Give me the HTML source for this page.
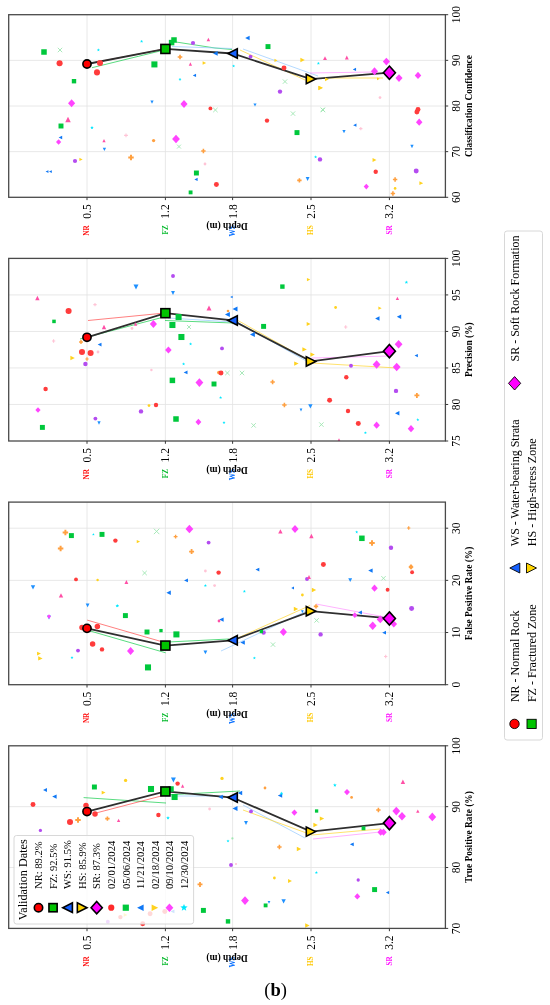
<!DOCTYPE html><html><head><meta charset="utf-8"><title>figure</title><style>html,body{margin:0;padding:0;background:#fff;}svg{display:block;}</style></head><body>
<svg width="550" height="1005" viewBox="0 0 550 1005" font-family="'Liberation Serif','Times New Roman',serif">
<rect width="550" height="1005" fill="#fff"/>
<defs><clipPath id="c0"><rect x="8.7" y="14.7" width="436.7" height="182.6"/></clipPath></defs>
<path d="M87 14.7V197.3M165.4 14.7V197.3M232.6 14.7V197.3M311 14.7V197.3M389.4 14.7V197.3M8.7 151.65H445.4M8.7 106H445.4M8.7 60.35H445.4" stroke="#e2e2e2" stroke-width="0.8" fill="none"/>
<g clip-path="url(#c0)">
<polyline points="86.8,64 165,48.9" fill="none" stroke="#ff3c3c" stroke-width="1" opacity="0.65"/>
<polyline points="92,67.7 160,51" fill="none" stroke="#00c83c" stroke-width="1" opacity="0.65"/>
<polyline points="176,42 215,48 232,49.5" fill="none" stroke="#00c83c" stroke-width="1" opacity="0.65"/>
<polyline points="172,46.5 232,48.5" fill="none" stroke="#8cc4ff" stroke-width="1" opacity="0.65"/>
<polyline points="243,49 318,76" fill="none" stroke="#8cc4ff" stroke-width="1" opacity="0.65"/>
<polyline points="240,50 305,80" fill="none" stroke="#ffd21f" stroke-width="1" opacity="0.65"/>
<polyline points="310,73 373,72" fill="none" stroke="#ff88ff" stroke-width="1" opacity="0.65"/>
<polyline points="325,78 383,78" fill="none" stroke="#ffd21f" stroke-width="1" opacity="0.65"/>
<polyline points="87,64 165.4,48.94 232.6,53.5 311,79.07 389.4,72.68" fill="none" stroke="#2e2e2e" stroke-width="1.8"/>
<rect x="41.25" y="49.25" width="5.5" height="5.5" fill="#00c83c"/>
<path d="M57.8 47.8L62.2 52.2M57.8 52.2L62.2 47.8" stroke="#9fe6b2" stroke-width="0.9" fill="none"/>
<circle cx="59.6" cy="63.2" r="3.03" fill="#ff3c3c"/>
<polygon points="98.4,48.36 98.82,49.42 99.96,49.49 99.08,50.22 99.37,51.33 98.4,50.72 97.43,51.33 97.72,50.22 96.84,49.49 97.98,49.42" fill="#00e8ff"/>
<circle cx="100" cy="63" r="3.03" fill="#ff3c3c"/>
<circle cx="97" cy="72.4" r="3.03" fill="#ff3c3c"/>
<rect x="71.8" y="79" width="4.4" height="4.4" fill="#00c83c"/>
<polygon points="71.6,99.27 75.17,103.2 71.6,107.13 68.02,103.2" fill="#ff44ff"/>
<polygon points="68,116.65 70.75,122.15 65.25,122.15" fill="#ff4fa6"/>
<rect x="58.52" y="123.53" width="4.95" height="4.95" fill="#00c83c"/>
<polygon points="58.64,137.4 62.16,135.64 62.16,139.16" fill="#1078f5"/>
<polygon points="58.6,139.14 61.2,142 58.6,144.86 56,142" fill="#ff44ff"/>
<polygon points="92,125.7 92.48,126.93 93.8,127.01 92.78,127.85 93.12,129.14 92,128.42 90.88,129.14 91.22,127.85 90.2,127.01 91.52,126.93" fill="#00e8ff"/>
<polygon points="104,138.95 105.65,142.25 102.35,142.25" fill="#ff4fa6"/>
<polygon points="104.4,151.05 106.05,147.75 102.75,147.75" fill="#1e90ff"/>
<circle cx="75" cy="161" r="2.09" fill="#b44cf0"/>
<polygon points="82.65,159.4 79.35,157.75 79.35,161.05" fill="#ffd21f"/>
<polygon points="45.57,171.6 48.43,170.17 48.43,173.03" fill="#1078f5"/>
<polygon points="48.97,171.6 51.83,170.17 51.83,173.03" fill="#1078f5"/>
<polygon points="141.6,39.76 142.02,40.82 143.16,40.89 142.28,41.62 142.57,42.73 141.6,42.12 140.63,42.73 140.92,41.62 140.04,40.89 141.18,40.82" fill="#00e8ff"/>
<rect x="171.25" y="37.25" width="5.5" height="5.5" fill="#00c83c"/>
<rect x="168.85" y="39.85" width="5.5" height="5.5" fill="#00c83c"/>
<circle cx="193" cy="43" r="2.09" fill="#b44cf0"/>
<polygon points="208.4,37.64 210.16,41.16 206.64,41.16" fill="#ff4fa6"/>
<rect x="151.38" y="61.38" width="6.05" height="6.05" fill="#00c83c"/>
<polygon points="179.17,54.69 180.83,54.69 180.83,56.17 182.31,56.17 182.31,57.83 180.83,57.83 180.83,59.31 179.17,59.31 179.17,57.83 177.69,57.83 177.69,56.17 179.17,56.17" fill="#ffa040"/>
<polygon points="190.4,62.35 192.05,65.65 188.75,65.65" fill="#ff4fa6"/>
<polygon points="206.16,63 202.64,61.24 202.64,64.76" fill="#ffd21f"/>
<polygon points="192.75,75.4 196.05,73.75 196.05,77.05" fill="#1078f5"/>
<polygon points="180,77.76 180.42,78.82 181.56,78.89 180.68,79.62 180.97,80.73 180,80.12 179.03,80.73 179.32,79.62 178.44,78.89 179.58,78.82" fill="#00e8ff"/>
<polygon points="152,103.85 153.65,100.55 150.35,100.55" fill="#1e90ff"/>
<polygon points="184,100.07 187.57,104 184,107.93 180.43,104" fill="#ff44ff"/>
<polygon points="213.09,53.4 217.71,51.09 217.71,55.71" fill="#1078f5"/>
<circle cx="210.4" cy="108.4" r="1.93" fill="#ff3c3c"/>
<path d="M213.2 107.8L217.6 112.2M213.2 112.2L217.6 107.8" stroke="#9fe6b2" stroke-width="0.9" fill="none"/>
<path d="M124.08 135.4L127.92 135.4M126 133.47L126 137.33" stroke="#ffc4d6" stroke-width="1.1" fill="none"/>
<circle cx="153.6" cy="140.6" r="1.65" fill="#ffa040"/>
<polygon points="176,134.71 179.9,139 176,143.29 172.1,139" fill="#ff44ff"/>
<path d="M177.07 144.67L180.93 148.53M177.07 148.53L180.93 144.67" stroke="#9fe6b2" stroke-width="0.9" fill="none"/>
<polygon points="130.01,154.65 131.99,154.65 131.99,156.41 133.75,156.41 133.75,158.39 131.99,158.39 131.99,160.15 130.01,160.15 130.01,158.39 128.25,158.39 128.25,156.41 130.01,156.41" fill="#ffa040"/>
<polygon points="202.61,148.8 204.19,148.8 204.19,150.21 205.6,150.21 205.6,151.79 204.19,151.79 204.19,153.2 202.61,153.2 202.61,151.79 201.2,151.79 201.2,150.21 202.61,150.21" fill="#ffa040"/>
<circle cx="205" cy="164" r="1.38" fill="#ffc4d6"/>
<rect x="193.93" y="170.53" width="4.95" height="4.95" fill="#00c83c"/>
<polygon points="194.35,179.4 197.65,177.75 197.65,181.05" fill="#1078f5"/>
<circle cx="216.4" cy="184.6" r="2.48" fill="#ff3c3c"/>
<rect x="188.67" y="190.47" width="3.85" height="3.85" fill="#00c83c"/>
<polygon points="245.2,38 249.6,35.8 249.6,40.2" fill="#1078f5"/>
<rect x="265.52" y="44.12" width="4.95" height="4.95" fill="#00c83c"/>
<circle cx="250.6" cy="56.6" r="1.93" fill="#b44cf0"/>
<polygon points="233.6,64.42 234,65.44 235.1,65.51 234.25,66.21 234.53,67.28 233.6,66.69 232.67,67.28 232.95,66.21 232.1,65.51 233.2,65.44" fill="#00e8ff"/>
<polygon points="277.54,60.4 274.46,58.86 274.46,61.94" fill="#ffd21f"/>
<circle cx="284" cy="68" r="2.48" fill="#ff3c3c"/>
<polygon points="304.8,60 300.4,57.8 300.4,62.2" fill="#ffd21f"/>
<polygon points="318.4,61.82 318.8,62.84 319.9,62.91 319.05,63.61 319.33,64.68 318.4,64.09 317.47,64.68 317.75,63.61 316.9,62.91 318,62.84" fill="#00e8ff"/>
<path d="M282.8 79.4L287.2 83.8M282.8 83.8L287.2 79.4" stroke="#9fe6b2" stroke-width="0.9" fill="none"/>
<circle cx="280" cy="91.6" r="2.2" fill="#b44cf0"/>
<polygon points="322.6,88 318.2,85.8 318.2,90.2" fill="#ffd21f"/>
<polygon points="255,106.54 256.54,103.46 253.46,103.46" fill="#1e90ff"/>
<circle cx="267" cy="120.6" r="2.2" fill="#ff3c3c"/>
<path d="M290.8 111.4L295.2 115.8M290.8 115.8L295.2 111.4" stroke="#9fe6b2" stroke-width="0.9" fill="none"/>
<rect x="294.52" y="130.12" width="4.95" height="4.95" fill="#00c83c"/>
<path d="M320.8 107.8L325.2 112.2M320.8 112.2L325.2 107.8" stroke="#9fe6b2" stroke-width="0.9" fill="none"/>
<polygon points="315.6,155.36 316.02,156.42 317.16,156.49 316.28,157.22 316.57,158.33 315.6,157.72 314.63,158.33 314.92,157.22 314.04,156.49 315.18,156.42" fill="#00e8ff"/>
<circle cx="320" cy="159.4" r="2.2" fill="#b44cf0"/>
<polygon points="298.61,178.2 300.19,178.2 300.19,179.61 301.6,179.61 301.6,181.19 300.19,181.19 300.19,182.6 298.61,182.6 298.61,181.19 297.2,181.19 297.2,179.61 298.61,179.61" fill="#ffa040"/>
<polygon points="307.6,180.93 309.53,177.07 305.68,177.07" fill="#1e90ff"/>
<polygon points="325,56.28 326.93,60.12 323.07,60.12" fill="#ff4fa6"/>
<polygon points="346.8,55.58 348.73,59.42 344.88,59.42" fill="#ff4fa6"/>
<polygon points="352.75,69.4 356.05,67.75 356.05,71.05" fill="#1078f5"/>
<polygon points="386.4,57.67 389.97,61.6 386.4,65.53 382.82,61.6" fill="#ff44ff"/>
<polygon points="374.5,67.37 378.07,71.3 374.5,75.23 370.93,71.3" fill="#ff44ff"/>
<polygon points="399,74.17 402.57,78.1 399,82.03 395.43,78.1" fill="#ff44ff"/>
<polygon points="418,71.83 421.25,75.4 418,78.98 414.75,75.4" fill="#ff44ff"/>
<polygon points="328.82,79.3 324.97,77.38 324.97,81.22" fill="#ffd21f"/>
<polygon points="322.93,87.8 319.07,85.88 319.07,89.72" fill="#ffd21f"/>
<polygon points="379.77,78.8 377.02,77.42 377.02,80.17" fill="#ffd21f"/>
<circle cx="380" cy="97.6" r="1.38" fill="#ffc4d6"/>
<path d="M320.77 107.67L324.62 111.52M320.77 111.52L324.62 107.67" stroke="#9fe6b2" stroke-width="0.9" fill="none"/>
<polygon points="353.15,125.2 356.45,123.55 356.45,126.85" fill="#1078f5"/>
<path d="M359.15 128.6L362.45 128.6M360.8 126.95L360.8 130.25" stroke="#ffc4d6" stroke-width="1.1" fill="none"/>
<polygon points="344,133.25 345.65,129.95 342.35,129.95" fill="#1e90ff"/>
<circle cx="418" cy="109.6" r="2.48" fill="#ff3c3c"/>
<circle cx="416.9" cy="111.9" r="2.48" fill="#ff3c3c"/>
<polygon points="419.2,118.62 422.45,122.2 419.2,125.78 415.95,122.2" fill="#ff44ff"/>
<polygon points="412,148.15 413.65,144.85 410.35,144.85" fill="#1e90ff"/>
<polygon points="376.43,160 372.57,158.07 372.57,161.93" fill="#ffd21f"/>
<circle cx="375.7" cy="171.7" r="2.2" fill="#ff3c3c"/>
<circle cx="416.2" cy="171" r="2.48" fill="#b44cf0"/>
<polygon points="394.31,177.3 395.89,177.3 395.89,178.71 397.3,178.71 397.3,180.29 395.89,180.29 395.89,181.7 394.31,181.7 394.31,180.29 392.9,180.29 392.9,178.71 394.31,178.71" fill="#ffa040"/>
<polygon points="423.23,183.2 419.38,181.27 419.38,185.12" fill="#ffd21f"/>
<polygon points="366.3,183.74 368.9,186.6 366.3,189.46 363.7,186.6" fill="#ff44ff"/>
<circle cx="395.1" cy="188.4" r="1.32" fill="#ffd21f"/>
<polygon points="392.11,191.3 393.69,191.3 393.69,192.71 395.1,192.71 395.1,194.29 393.69,194.29 393.69,195.7 392.11,195.7 392.11,194.29 390.7,194.29 390.7,192.71 392.11,192.71" fill="#ffa040"/>
</g>
<circle cx="87" cy="64" r="4.1" fill="#ff0000" stroke="#000" stroke-width="1.6" stroke-linejoin="miter"/>
<rect x="160.9" y="44.44" width="9" height="9" fill="#00c400" stroke="#000" stroke-width="1.6" stroke-linejoin="miter"/>
<polygon points="227.9,53.5 237.3,48.8 237.3,58.2" fill="#1560ff" stroke="#000" stroke-width="1.6" stroke-linejoin="miter"/>
<polygon points="315.7,79.07 306.3,74.37 306.3,83.77" fill="#ffd500" stroke="#000" stroke-width="1.6" stroke-linejoin="miter"/>
<polygon points="389.4,66.08 395.4,72.68 389.4,79.28 383.4,72.68" fill="#ff00ff" stroke="#000" stroke-width="1.6" stroke-linejoin="miter"/>
<rect x="8.7" y="14.7" width="436.7" height="182.6" fill="none" stroke="#4a4a4a" stroke-width="1.3"/>
<path d="M87 197.3v2.8M165.4 197.3v2.8M232.6 197.3v2.8M311 197.3v2.8M389.4 197.3v2.8M445.4 197.3h2.8M445.4 151.65h2.8M445.4 106h2.8M445.4 60.35h2.8M445.4 14.7h2.8" stroke="#3a3a3a" stroke-width="1" fill="none"/>
<text transform="translate(87 204.3) rotate(-90)" font-size="11.5" text-anchor="end" dy="0.34em">0.5</text>
<text transform="translate(86.6 225.3) rotate(-90)" font-size="7.2" font-weight="bold" text-anchor="end" dy="0.35em" fill="#ff1010">NR</text>
<text transform="translate(165.4 204.3) rotate(-90)" font-size="11.5" text-anchor="end" dy="0.34em">1.2</text>
<text transform="translate(165 225.3) rotate(-90)" font-size="7.2" font-weight="bold" text-anchor="end" dy="0.35em" fill="#00b828">FZ</text>
<text transform="translate(232.6 204.3) rotate(-90)" font-size="11.5" text-anchor="end" dy="0.34em">1.8</text>
<text transform="translate(232.2 225.3) rotate(-90)" font-size="7.2" font-weight="bold" text-anchor="end" dy="0.35em" fill="#0a70ff">WS</text>
<text transform="translate(311 204.3) rotate(-90)" font-size="11.5" text-anchor="end" dy="0.34em">2.5</text>
<text transform="translate(310.6 225.3) rotate(-90)" font-size="7.2" font-weight="bold" text-anchor="end" dy="0.35em" fill="#ffc800">HS</text>
<text transform="translate(389.4 204.3) rotate(-90)" font-size="11.5" text-anchor="end" dy="0.34em">3.2</text>
<text transform="translate(389 225.3) rotate(-90)" font-size="7.2" font-weight="bold" text-anchor="end" dy="0.35em" fill="#ff10ff">SR</text>
<text transform="translate(459.8 197.3) rotate(-90)" font-size="11.5" text-anchor="middle">60</text>
<text transform="translate(459.8 151.65) rotate(-90)" font-size="11.5" text-anchor="middle">70</text>
<text transform="translate(459.8 106) rotate(-90)" font-size="11.5" text-anchor="middle">80</text>
<text transform="translate(459.8 60.35) rotate(-90)" font-size="11.5" text-anchor="middle">90</text>
<text transform="translate(459.8 14.7) rotate(-90)" font-size="11.5" text-anchor="middle">100</text>
<text transform="translate(471.8 106) rotate(-90)" font-size="9.4" font-weight="bold" text-anchor="middle">Classification Confidence</text>
<text transform="translate(227.1 223.4) rotate(180)" font-size="9.5" font-weight="bold" text-anchor="middle">Depth (m)</text>
<defs><clipPath id="c1"><rect x="8.7" y="258.4" width="436.7" height="182.6"/></clipPath></defs>
<path d="M87 258.4V441M165.4 258.4V441M232.6 258.4V441M311 258.4V441M389.4 258.4V441M8.7 404.48H445.4M8.7 367.96H445.4M8.7 331.44H445.4M8.7 294.92H445.4" stroke="#e2e2e2" stroke-width="0.8" fill="none"/>
<g clip-path="url(#c1)">
<polyline points="88,320.5 165,313" fill="none" stroke="#ff3c3c" stroke-width="1" opacity="0.65"/>
<polyline points="80,339 160,318" fill="none" stroke="#00c83c" stroke-width="1" opacity="0.65"/>
<polyline points="165,320.5 233,323" fill="none" stroke="#00c83c" stroke-width="1" opacity="0.65"/>
<polyline points="168,318 233,322" fill="none" stroke="#8cc4ff" stroke-width="1" opacity="0.65"/>
<polyline points="237,320 310,361" fill="none" stroke="#ffd21f" stroke-width="1" opacity="0.65"/>
<polyline points="237,322 308,362" fill="none" stroke="#8cc4ff" stroke-width="1" opacity="0.65"/>
<polyline points="312,358 389,356" fill="none" stroke="#ff88ff" stroke-width="1" opacity="0.65"/>
<polyline points="312,363 397,368" fill="none" stroke="#ffd21f" stroke-width="1" opacity="0.65"/>
<polyline points="87,337.28 165.4,313.18 232.6,320.48 311,361.39 389.4,351.16" fill="none" stroke="#2e2e2e" stroke-width="1.8"/>
<polygon points="37.4,295.8 39.6,300.2 35.2,300.2" fill="#ff4fa6"/>
<circle cx="68.6" cy="311" r="3.03" fill="#ff3c3c"/>
<rect x="52.24" y="319.64" width="3.52" height="3.52" fill="#00c83c"/>
<path d="M93.35 304.6L96.65 304.6M95 302.95L95 306.25" stroke="#ffc4d6" stroke-width="1.1" fill="none"/>
<path d="M51.95 341L55.25 341M53.6 339.35L53.6 342.65" stroke="#ffc4d6" stroke-width="1.1" fill="none"/>
<polygon points="104,324.8 106.2,329.2 101.8,329.2" fill="#ff4fa6"/>
<polygon points="80.31,340.07 81.69,340.07 81.69,341.31 82.92,341.31 82.92,342.69 81.69,342.69 81.69,343.93 80.31,343.93 80.31,342.69 79.08,342.69 79.08,341.31 80.31,341.31" fill="#ffa040"/>
<polygon points="97.67,344.6 101.52,342.68 101.52,346.53" fill="#1078f5"/>
<circle cx="82" cy="352" r="3.03" fill="#ff3c3c"/>
<circle cx="90.6" cy="353" r="3.03" fill="#ff3c3c"/>
<polygon points="74.8,358 70.4,355.8 70.4,360.2" fill="#ffd21f"/>
<polygon points="86.41,357.35 87.59,357.35 87.59,358.41 88.65,358.41 88.65,359.59 87.59,359.59 87.59,360.65 86.41,360.65 86.41,359.59 85.35,359.59 85.35,358.41 86.41,358.41" fill="#ffa040"/>
<circle cx="85.4" cy="364" r="2.2" fill="#b44cf0"/>
<circle cx="45.6" cy="389" r="2.2" fill="#ff3c3c"/>
<polygon points="38,407.14 40.6,410 38,412.86 35.4,410" fill="#ff44ff"/>
<rect x="39.92" y="424.92" width="4.95" height="4.95" fill="#00c83c"/>
<circle cx="95.4" cy="418.6" r="1.93" fill="#b44cf0"/>
<polygon points="99,424.65 100.65,421.35 97.35,421.35" fill="#1e90ff"/>
<circle cx="98" cy="352" r="1.38" fill="#ffc4d6"/>
<circle cx="173" cy="276" r="1.93" fill="#b44cf0"/>
<polygon points="136,289.48 138.47,284.52 133.53,284.52" fill="#1e90ff"/>
<polygon points="173,294.93 174.93,291.07 171.07,291.07" fill="#1e90ff"/>
<polygon points="209,305.52 211.47,310.48 206.53,310.48" fill="#ff4fa6"/>
<rect x="175.57" y="313.98" width="6.05" height="6.05" fill="#00c83c"/>
<rect x="169.38" y="321.98" width="6.05" height="6.05" fill="#00c83c"/>
<rect x="178.38" y="333.98" width="6.05" height="6.05" fill="#00c83c"/>
<polygon points="153.4,320.07 156.97,324 153.4,327.93 149.83,324" fill="#ff44ff"/>
<polygon points="135.6,322.35 137.25,325.65 133.95,325.65" fill="#ff4fa6"/>
<circle cx="132" cy="328.4" r="1.38" fill="#ffc4d6"/>
<path d="M187.07 325.07L190.93 328.93M187.07 328.93L190.93 325.07" stroke="#9fe6b2" stroke-width="0.9" fill="none"/>
<polygon points="190.6,342.36 191.02,343.42 192.16,343.49 191.28,344.22 191.57,345.33 190.6,344.71 189.63,345.33 189.92,344.22 189.04,343.49 190.18,343.42" fill="#00e8ff"/>
<polygon points="168.4,346.43 171.65,350 168.4,353.57 165.15,350" fill="#ff44ff"/>
<polygon points="183.6,362.36 184.02,363.42 185.16,363.49 184.28,364.22 184.57,365.33 183.6,364.71 182.63,365.33 182.92,364.22 182.04,363.49 183.18,363.42" fill="#00e8ff"/>
<polygon points="183.67,372.4 187.53,370.47 187.53,374.32" fill="#1078f5"/>
<circle cx="151.4" cy="370" r="1.21" fill="#ffc4d6"/>
<rect x="169.65" y="377.65" width="5.5" height="5.5" fill="#00c83c"/>
<polygon points="199.4,378.31 203.3,382.6 199.4,386.89 195.5,382.6" fill="#ff44ff"/>
<rect x="211.53" y="381.52" width="4.95" height="4.95" fill="#00c83c"/>
<circle cx="219" cy="372.6" r="1.93" fill="#ffa040"/>
<circle cx="149" cy="405.6" r="1.38" fill="#ffd21f"/>
<circle cx="156" cy="405" r="2.2" fill="#ff3c3c"/>
<circle cx="141" cy="411.4" r="2.2" fill="#b44cf0"/>
<rect x="173.25" y="416.25" width="5.5" height="5.5" fill="#00c83c"/>
<polygon points="198.4,418.78 201.33,422 198.4,425.22 195.47,422" fill="#ff44ff"/>
<polygon points="230.19,297 232.61,295.79 232.61,298.21" fill="#1078f5"/>
<polygon points="232.53,309 237.47,306.52 237.47,311.48" fill="#1078f5"/>
<circle cx="228" cy="311" r="1.32" fill="#ffa040"/>
<polygon points="224.93,314.6 229.88,312.12 229.88,317.08" fill="#1078f5"/>
<rect x="280.2" y="284.4" width="4.4" height="4.4" fill="#00c83c"/>
<polygon points="310.25,279.6 306.95,277.95 306.95,281.25" fill="#ffd21f"/>
<rect x="261.12" y="323.92" width="4.95" height="4.95" fill="#00c83c"/>
<polygon points="249.93,334.6 254.88,332.12 254.88,337.08" fill="#1078f5"/>
<polygon points="310.53,324 306.68,322.07 306.68,325.93" fill="#ffd21f"/>
<polygon points="306.8,349.4 302.4,347.2 302.4,351.6" fill="#ffd21f"/>
<circle cx="222" cy="348.4" r="1.93" fill="#b44cf0"/>
<polygon points="314.8,354.6 310.4,352.4 310.4,356.8" fill="#ffd21f"/>
<polygon points="298.6,363.6 294.2,361.4 294.2,365.8" fill="#ffd21f"/>
<circle cx="221" cy="373" r="2.48" fill="#ff3c3c"/>
<path d="M225.2 370.8L229.6 375.2M225.2 375.2L229.6 370.8" stroke="#9fe6b2" stroke-width="0.9" fill="none"/>
<path d="M239.8 370.8L244.2 375.2M239.8 375.2L244.2 370.8" stroke="#9fe6b2" stroke-width="0.9" fill="none"/>
<polygon points="271.81,379.8 273.39,379.8 273.39,381.21 274.8,381.21 274.8,382.79 273.39,382.79 273.39,384.2 271.81,384.2 271.81,382.79 270.4,382.79 270.4,381.21 271.81,381.21" fill="#ffa040"/>
<polygon points="220.6,396.02 221,397.04 222.1,397.11 221.25,397.81 221.53,398.88 220.6,398.29 219.67,398.88 219.95,397.81 219.1,397.11 220.2,397.04" fill="#00e8ff"/>
<polygon points="283.61,402.8 285.19,402.8 285.19,404.21 286.6,404.21 286.6,405.79 285.19,405.79 285.19,407.2 283.61,407.2 283.61,405.79 282.2,405.79 282.2,404.21 283.61,404.21" fill="#ffa040"/>
<polygon points="301,411.38 302.38,408.62 299.62,408.62" fill="#1e90ff"/>
<polygon points="310.4,408.6 312.6,404.2 308.2,404.2" fill="#1e90ff"/>
<polygon points="224,421.02 224.4,422.04 225.5,422.11 224.65,422.81 224.93,423.88 224,423.29 223.07,423.88 223.35,422.81 222.5,422.11 223.6,422.04" fill="#00e8ff"/>
<path d="M251.4 423.2L255.8 427.6M251.4 427.6L255.8 423.2" stroke="#9fe6b2" stroke-width="0.9" fill="none"/>
<path d="M319.2 422.4L323.6 426.8M319.2 426.8L323.6 422.4" stroke="#9fe6b2" stroke-width="0.9" fill="none"/>
<polygon points="406.4,280.4 406.88,281.63 408.2,281.71 407.18,282.55 407.52,283.84 406.4,283.12 405.28,283.84 405.62,282.55 404.6,281.71 405.92,281.63" fill="#00e8ff"/>
<polygon points="397.4,296.75 399.05,300.05 395.75,300.05" fill="#ff4fa6"/>
<circle cx="335.6" cy="307.5" r="1.38" fill="#ffd21f"/>
<polygon points="381.65,308.2 378.35,306.55 378.35,309.85" fill="#ffd21f"/>
<polygon points="375.1,318.5 379.5,316.3 379.5,320.7" fill="#1078f5"/>
<polygon points="396.8,316.7 401.2,314.5 401.2,318.9" fill="#1078f5"/>
<path d="M344.05 327L347.35 327M345.7 325.35L345.7 328.65" stroke="#ffc4d6" stroke-width="1.1" fill="none"/>
<polygon points="398.6,339.91 402.5,344.2 398.6,348.49 394.7,344.2" fill="#ff44ff"/>
<polygon points="414.55,355.6 417.85,353.95 417.85,357.25" fill="#1078f5"/>
<polygon points="376.6,360.21 380.5,364.5 376.6,368.79 372.7,364.5" fill="#ff44ff"/>
<polygon points="396.7,362.71 400.6,367 396.7,371.29 392.8,367" fill="#ff44ff"/>
<circle cx="351" cy="365.7" r="1.93" fill="#b44cf0"/>
<circle cx="346.3" cy="377.3" r="2.2" fill="#ff3c3c"/>
<circle cx="396" cy="390.9" r="2.2" fill="#b44cf0"/>
<polygon points="416.01,392.92 417.79,392.92 417.79,394.51 419.38,394.51 419.38,396.29 417.79,396.29 417.79,397.88 416.01,397.88 416.01,396.29 414.42,396.29 414.42,394.51 416.01,394.51" fill="#ffa040"/>
<circle cx="329.6" cy="400.3" r="2.48" fill="#ff3c3c"/>
<circle cx="348" cy="411" r="2.2" fill="#ff3c3c"/>
<polygon points="395,413.3 399.4,411.1 399.4,415.5" fill="#1078f5"/>
<polygon points="417.8,418.12 418.2,419.14 419.3,419.21 418.45,419.91 418.73,420.98 417.8,420.39 416.87,420.98 417.15,419.91 416.3,419.21 417.4,419.14" fill="#00e8ff"/>
<circle cx="358.3" cy="423.6" r="2.48" fill="#ff3c3c"/>
<polygon points="376.6,421.62 379.85,425.2 376.6,428.77 373.35,425.2" fill="#ff44ff"/>
<polygon points="411,425.12 414.25,428.7 411,432.27 407.75,428.7" fill="#ff44ff"/>
<polygon points="365.4,431.22 365.8,432.24 366.9,432.31 366.05,433.01 366.33,434.08 365.4,433.49 364.47,434.08 364.75,433.01 363.9,432.31 365,432.24" fill="#00e8ff"/>
<polygon points="339,438.35 340.65,441.65 337.35,441.65" fill="#ff4fa6"/>
</g>
<circle cx="87" cy="337.28" r="4.1" fill="#ff0000" stroke="#000" stroke-width="1.6" stroke-linejoin="miter"/>
<rect x="160.9" y="308.68" width="9" height="9" fill="#00c400" stroke="#000" stroke-width="1.6" stroke-linejoin="miter"/>
<polygon points="227.9,320.48 237.3,315.78 237.3,325.18" fill="#1560ff" stroke="#000" stroke-width="1.6" stroke-linejoin="miter"/>
<polygon points="315.7,361.39 306.3,356.69 306.3,366.09" fill="#ffd500" stroke="#000" stroke-width="1.6" stroke-linejoin="miter"/>
<polygon points="389.4,344.56 395.4,351.16 389.4,357.76 383.4,351.16" fill="#ff00ff" stroke="#000" stroke-width="1.6" stroke-linejoin="miter"/>
<rect x="8.7" y="258.4" width="436.7" height="182.6" fill="none" stroke="#4a4a4a" stroke-width="1.3"/>
<path d="M87 441v2.8M165.4 441v2.8M232.6 441v2.8M311 441v2.8M389.4 441v2.8M445.4 441h2.8M445.4 404.48h2.8M445.4 367.96h2.8M445.4 331.44h2.8M445.4 294.92h2.8M445.4 258.4h2.8" stroke="#3a3a3a" stroke-width="1" fill="none"/>
<text transform="translate(87 448) rotate(-90)" font-size="11.5" text-anchor="end" dy="0.34em">0.5</text>
<text transform="translate(86.6 469) rotate(-90)" font-size="7.2" font-weight="bold" text-anchor="end" dy="0.35em" fill="#ff1010">NR</text>
<text transform="translate(165.4 448) rotate(-90)" font-size="11.5" text-anchor="end" dy="0.34em">1.2</text>
<text transform="translate(165 469) rotate(-90)" font-size="7.2" font-weight="bold" text-anchor="end" dy="0.35em" fill="#00b828">FZ</text>
<text transform="translate(232.6 448) rotate(-90)" font-size="11.5" text-anchor="end" dy="0.34em">1.8</text>
<text transform="translate(232.2 469) rotate(-90)" font-size="7.2" font-weight="bold" text-anchor="end" dy="0.35em" fill="#0a70ff">WS</text>
<text transform="translate(311 448) rotate(-90)" font-size="11.5" text-anchor="end" dy="0.34em">2.5</text>
<text transform="translate(310.6 469) rotate(-90)" font-size="7.2" font-weight="bold" text-anchor="end" dy="0.35em" fill="#ffc800">HS</text>
<text transform="translate(389.4 448) rotate(-90)" font-size="11.5" text-anchor="end" dy="0.34em">3.2</text>
<text transform="translate(389 469) rotate(-90)" font-size="7.2" font-weight="bold" text-anchor="end" dy="0.35em" fill="#ff10ff">SR</text>
<text transform="translate(459.8 441) rotate(-90)" font-size="11.5" text-anchor="middle">75</text>
<text transform="translate(459.8 404.48) rotate(-90)" font-size="11.5" text-anchor="middle">80</text>
<text transform="translate(459.8 367.96) rotate(-90)" font-size="11.5" text-anchor="middle">85</text>
<text transform="translate(459.8 331.44) rotate(-90)" font-size="11.5" text-anchor="middle">90</text>
<text transform="translate(459.8 294.92) rotate(-90)" font-size="11.5" text-anchor="middle">95</text>
<text transform="translate(459.8 258.4) rotate(-90)" font-size="11.5" text-anchor="middle">100</text>
<text transform="translate(471.8 349.7) rotate(-90)" font-size="9.4" font-weight="bold" text-anchor="middle">Precision (%)</text>
<text transform="translate(227.1 467.1) rotate(180)" font-size="9.5" font-weight="bold" text-anchor="middle">Depth (m)</text>
<defs><clipPath id="c2"><rect x="8.7" y="502.1" width="436.7" height="182.6"/></clipPath></defs>
<path d="M87 502.1V684.7M165.4 502.1V684.7M232.6 502.1V684.7M311 502.1V684.7M389.4 502.1V684.7M8.7 632.53H445.4M8.7 580.36H445.4M8.7 528.19H445.4" stroke="#e2e2e2" stroke-width="0.8" fill="none"/>
<g clip-path="url(#c2)">
<polyline points="87.2,620.1 161.8,641.7" fill="none" stroke="#ff3c3c" stroke-width="1" opacity="0.65"/>
<polyline points="89.8,630.9 165.7,652.8" fill="none" stroke="#00c83c" stroke-width="1" opacity="0.65"/>
<polyline points="168,642 229,639" fill="none" stroke="#00c83c" stroke-width="1" opacity="0.65"/>
<polyline points="221,651 306.4,611" fill="none" stroke="#8cc4ff" stroke-width="1" opacity="0.65"/>
<polyline points="237.3,638.2 310,605.5" fill="none" stroke="#ffd21f" stroke-width="1" opacity="0.65"/>
<polyline points="316,604 385,617" fill="none" stroke="#ff88ff" stroke-width="1" opacity="0.65"/>
<polyline points="87,628.35 165.4,645.57 232.6,640.35 311,611.14 389.4,618.44" fill="none" stroke="#2e2e2e" stroke-width="1.8"/>
<polygon points="64.41,529.85 66.39,529.85 66.39,531.61 68.15,531.61 68.15,533.59 66.39,533.59 66.39,535.35 64.41,535.35 64.41,533.59 62.65,533.59 62.65,531.61 64.41,531.61" fill="#ffa040"/>
<rect x="68.93" y="533.12" width="4.95" height="4.95" fill="#00c83c"/>
<polygon points="59.61,545.85 61.59,545.85 61.59,547.61 63.35,547.61 63.35,549.59 61.59,549.59 61.59,551.35 59.61,551.35 59.61,549.59 57.85,549.59 57.85,547.61 59.61,547.61" fill="#ffa040"/>
<polygon points="93.4,533.01 93.76,533.91 94.72,533.97 93.98,534.59 94.22,535.53 93.4,535 92.58,535.53 92.82,534.59 92.08,533.97 93.04,533.91" fill="#00e8ff"/>
<rect x="99.53" y="531.92" width="4.95" height="4.95" fill="#00c83c"/>
<circle cx="115.4" cy="540.6" r="2.2" fill="#ff3c3c"/>
<circle cx="76" cy="579.4" r="1.93" fill="#ff3c3c"/>
<circle cx="97.6" cy="580" r="1.21" fill="#ffd21f"/>
<polygon points="33,589.6 35.2,585.2 30.8,585.2" fill="#1e90ff"/>
<polygon points="61,593.2 63.2,597.6 58.8,597.6" fill="#ff4fa6"/>
<polygon points="87.6,607.32 89.52,603.48 85.67,603.48" fill="#1e90ff"/>
<polygon points="117,604.42 117.4,605.44 118.5,605.51 117.65,606.21 117.93,607.28 117,606.69 116.07,607.28 116.35,606.21 115.5,605.51 116.6,605.44" fill="#00e8ff"/>
<polygon points="49,619.42 50.92,615.58 47.08,615.58" fill="#1e90ff"/>
<polygon points="49,614.36 50.95,616.5 49,618.64 47.05,616.5" fill="#ff44ff"/>
<circle cx="82" cy="627.6" r="2.75" fill="#ff3c3c"/>
<circle cx="97.4" cy="626.6" r="2.75" fill="#ff3c3c"/>
<circle cx="92.6" cy="644" r="2.75" fill="#ff3c3c"/>
<circle cx="102" cy="649.4" r="2.2" fill="#ff3c3c"/>
<circle cx="78" cy="650.6" r="1.93" fill="#b44cf0"/>
<polygon points="72,656.02 72.4,657.04 73.5,657.11 72.65,657.81 72.93,658.88 72,658.29 71.07,658.88 71.35,657.81 70.5,657.11 71.6,657.04" fill="#00e8ff"/>
<polygon points="40.92,653.6 37.08,651.68 37.08,655.52" fill="#ffd21f"/>
<polygon points="42.6,658.4 38.2,656.2 38.2,660.6" fill="#ffd21f"/>
<path d="M153.85 528.65L159.35 534.15M153.85 534.15L159.35 528.65" stroke="#9fe6b2" stroke-width="0.9" fill="none"/>
<polygon points="189.4,524.71 193.3,529 189.4,533.29 185.5,529" fill="#ff44ff"/>
<polygon points="140.05,541.6 136.75,539.95 136.75,543.25" fill="#ffd21f"/>
<polygon points="174.91,534.68 176.29,534.68 176.29,535.91 177.53,535.91 177.53,537.29 176.29,537.29 176.29,538.52 174.91,538.52 174.91,537.29 173.67,537.29 173.67,535.91 174.91,535.91" fill="#ffa040"/>
<circle cx="208.6" cy="542.6" r="1.93" fill="#b44cf0"/>
<polygon points="190.71,549.12 192.49,549.12 192.49,550.71 194.07,550.71 194.07,552.49 192.49,552.49 192.49,554.08 190.71,554.08 190.71,552.49 189.12,552.49 189.12,550.71 190.71,550.71" fill="#ffa040"/>
<path d="M142.4 570.8L146.8 575.2M142.4 575.2L146.8 570.8" stroke="#9fe6b2" stroke-width="0.9" fill="none"/>
<circle cx="205.4" cy="571" r="1.38" fill="#ffc4d6"/>
<circle cx="218.6" cy="572.6" r="2.2" fill="#ff3c3c"/>
<polygon points="126.4,580.08 128.33,583.92 124.48,583.92" fill="#ff4fa6"/>
<polygon points="184.07,580.4 187.93,578.48 187.93,582.32" fill="#1078f5"/>
<polygon points="205.4,584.02 205.8,585.04 206.9,585.11 206.05,585.81 206.33,586.88 205.4,586.29 204.47,586.88 204.75,585.81 203.9,585.11 205,585.04" fill="#00e8ff"/>
<circle cx="214.6" cy="585.6" r="1.38" fill="#ffc4d6"/>
<polygon points="166.4,592.8 170.8,590.6 170.8,595" fill="#1078f5"/>
<polygon points="117.6,604.02 118,605.04 119.1,605.11 118.25,605.81 118.53,606.88 117.6,606.29 116.67,606.88 116.95,605.81 116.1,605.11 117.2,605.04" fill="#00e8ff"/>
<rect x="122.93" y="613.12" width="4.95" height="4.95" fill="#00c83c"/>
<rect x="144.53" y="629.52" width="4.95" height="4.95" fill="#00c83c"/>
<rect x="159.35" y="628.95" width="3.3" height="3.3" fill="#00c83c"/>
<rect x="173.38" y="631.38" width="6.05" height="6.05" fill="#00c83c"/>
<polygon points="130.6,647.07 134.17,651 130.6,654.93 127.02,651" fill="#ff44ff"/>
<polygon points="205.4,654.32 207.33,650.48 203.47,650.48" fill="#1e90ff"/>
<rect x="144.97" y="664.38" width="6.05" height="6.05" fill="#00c83c"/>
<polygon points="280.4,529.2 282.6,533.6 278.2,533.6" fill="#ff4fa6"/>
<polygon points="295,525.07 298.57,529 295,532.93 291.43,529" fill="#ff44ff"/>
<polygon points="311.4,533.8 313.6,538.2 309.2,538.2" fill="#ff4fa6"/>
<polygon points="255.47,569.6 259.32,567.68 259.32,571.52" fill="#1078f5"/>
<circle cx="323.4" cy="564.6" r="2.48" fill="#ff3c3c"/>
<circle cx="307" cy="579" r="1.93" fill="#b44cf0"/>
<polygon points="309,575.08 310.93,578.92 307.07,578.92" fill="#ff4fa6"/>
<polygon points="244.4,589.82 244.8,590.84 245.9,590.91 245.05,591.61 245.33,592.68 244.4,592.09 243.47,592.68 243.75,591.61 242.9,590.91 244,590.84" fill="#00e8ff"/>
<polygon points="291.23,588 293.98,586.62 293.98,589.38" fill="#1078f5"/>
<polygon points="316.2,590 311.8,587.8 311.8,592.2" fill="#ffd21f"/>
<circle cx="302.4" cy="595" r="1.38" fill="#ffd21f"/>
<polygon points="219.2,619.6 223.6,617.4 223.6,621.8" fill="#1078f5"/>
<circle cx="219" cy="621" r="1.38" fill="#ff4fa6"/>
<polygon points="240.4,642.6 244.8,640.4 244.8,644.8" fill="#1078f5"/>
<circle cx="263.6" cy="632.6" r="2.2" fill="#b44cf0"/>
<rect x="259.75" y="629.95" width="3.3" height="3.3" fill="#00c83c"/>
<polygon points="283.4,628.07 286.97,632 283.4,635.93 279.82,632" fill="#ff44ff"/>
<path d="M270.8 642.4L275.2 646.8M270.8 646.8L275.2 642.4" stroke="#9fe6b2" stroke-width="0.9" fill="none"/>
<polygon points="254.4,656.42 254.8,657.44 255.9,657.51 255.05,658.21 255.33,659.28 254.4,658.69 253.47,659.28 253.75,658.21 252.9,657.51 254,657.44" fill="#00e8ff"/>
<polygon points="298.2,609 293.8,606.8 293.8,611.2" fill="#ffd21f"/>
<polygon points="302.4,612.98 303.77,610.23 301.02,610.23" fill="#1e90ff"/>
<polygon points="315.21,604.2 316.79,604.2 316.79,605.61 318.2,605.61 318.2,607.19 316.79,607.19 316.79,608.6 315.21,608.6 315.21,607.19 313.8,607.19 313.8,605.61 315.21,605.61" fill="#ffa040"/>
<path d="M314.4 618.2L318.8 622.6M314.4 622.6L318.8 618.2" stroke="#9fe6b2" stroke-width="0.9" fill="none"/>
<circle cx="320.6" cy="634.4" r="2.2" fill="#b44cf0"/>
<polygon points="356.7,530.52 357.1,531.54 358.2,531.61 357.35,532.31 357.63,533.38 356.7,532.79 355.77,533.38 356.05,532.31 355.2,531.61 356.3,531.54" fill="#00e8ff"/>
<rect x="359.15" y="535.55" width="5.5" height="5.5" fill="#00c83c"/>
<polygon points="371.01,540.35 372.99,540.35 372.99,542.11 374.75,542.11 374.75,544.09 372.99,544.09 372.99,545.85 371.01,545.85 371.01,544.09 369.25,544.09 369.25,542.11 371.01,542.11" fill="#ffa040"/>
<polygon points="408.11,526.35 409.29,526.35 409.29,527.41 410.35,527.41 410.35,528.59 409.29,528.59 409.29,529.65 408.11,529.65 408.11,528.59 407.05,528.59 407.05,527.41 408.11,527.41" fill="#ffa040"/>
<circle cx="391" cy="547.7" r="2.2" fill="#b44cf0"/>
<polygon points="411,564.04 413.6,566.9 411,569.76 408.4,566.9" fill="#ffa040"/>
<circle cx="412.1" cy="572.2" r="1.93" fill="#ff3c3c"/>
<polygon points="368.2,570.6 372.6,568.4 372.6,572.8" fill="#1078f5"/>
<polygon points="350.2,582.12 352.12,578.28 348.27,578.28" fill="#1e90ff"/>
<path d="M381.3 576.1L385.7 580.5M381.3 580.5L385.7 576.1" stroke="#9fe6b2" stroke-width="0.9" fill="none"/>
<polygon points="374.5,584.62 377.75,588.2 374.5,591.78 371.25,588.2" fill="#ff44ff"/>
<circle cx="387.6" cy="589.8" r="1.93" fill="#ff3c3c"/>
<circle cx="411.6" cy="608.4" r="2.48" fill="#b44cf0"/>
<polygon points="358.07,612.5 361.93,610.58 361.93,614.42" fill="#1078f5"/>
<polygon points="354.8,612.34 357.4,615.2 354.8,618.06 352.2,615.2" fill="#ff44ff"/>
<polygon points="380.3,615.47 383.88,619.4 380.3,623.33 376.73,619.4" fill="#ff44ff"/>
<polygon points="393.8,620.42 397.05,624 393.8,627.58 390.55,624" fill="#ff44ff"/>
<polygon points="372.7,621.51 376.6,625.8 372.7,630.09 368.8,625.8" fill="#ff44ff"/>
<polygon points="382.18,632.7 386.03,630.78 386.03,634.62" fill="#1078f5"/>
<path d="M384.05 656.5L387.35 656.5M385.7 654.85L385.7 658.15" stroke="#ffc4d6" stroke-width="1.1" fill="none"/>
</g>
<circle cx="87" cy="628.35" r="4.1" fill="#ff0000" stroke="#000" stroke-width="1.6" stroke-linejoin="miter"/>
<rect x="160.9" y="641.07" width="9" height="9" fill="#00c400" stroke="#000" stroke-width="1.6" stroke-linejoin="miter"/>
<polygon points="227.9,640.35 237.3,635.65 237.3,645.05" fill="#1560ff" stroke="#000" stroke-width="1.6" stroke-linejoin="miter"/>
<polygon points="315.7,611.14 306.3,606.44 306.3,615.84" fill="#ffd500" stroke="#000" stroke-width="1.6" stroke-linejoin="miter"/>
<polygon points="389.4,611.84 395.4,618.44 389.4,625.04 383.4,618.44" fill="#ff00ff" stroke="#000" stroke-width="1.6" stroke-linejoin="miter"/>
<rect x="8.7" y="502.1" width="436.7" height="182.6" fill="none" stroke="#4a4a4a" stroke-width="1.3"/>
<path d="M87 684.7v2.8M165.4 684.7v2.8M232.6 684.7v2.8M311 684.7v2.8M389.4 684.7v2.8M445.4 684.7h2.8M445.4 632.53h2.8M445.4 580.36h2.8M445.4 528.19h2.8" stroke="#3a3a3a" stroke-width="1" fill="none"/>
<text transform="translate(87 691.7) rotate(-90)" font-size="11.5" text-anchor="end" dy="0.34em">0.5</text>
<text transform="translate(86.6 712.7) rotate(-90)" font-size="7.2" font-weight="bold" text-anchor="end" dy="0.35em" fill="#ff1010">NR</text>
<text transform="translate(165.4 691.7) rotate(-90)" font-size="11.5" text-anchor="end" dy="0.34em">1.2</text>
<text transform="translate(165 712.7) rotate(-90)" font-size="7.2" font-weight="bold" text-anchor="end" dy="0.35em" fill="#00b828">FZ</text>
<text transform="translate(232.6 691.7) rotate(-90)" font-size="11.5" text-anchor="end" dy="0.34em">1.8</text>
<text transform="translate(232.2 712.7) rotate(-90)" font-size="7.2" font-weight="bold" text-anchor="end" dy="0.35em" fill="#0a70ff">WS</text>
<text transform="translate(311 691.7) rotate(-90)" font-size="11.5" text-anchor="end" dy="0.34em">2.5</text>
<text transform="translate(310.6 712.7) rotate(-90)" font-size="7.2" font-weight="bold" text-anchor="end" dy="0.35em" fill="#ffc800">HS</text>
<text transform="translate(389.4 691.7) rotate(-90)" font-size="11.5" text-anchor="end" dy="0.34em">3.2</text>
<text transform="translate(389 712.7) rotate(-90)" font-size="7.2" font-weight="bold" text-anchor="end" dy="0.35em" fill="#ff10ff">SR</text>
<text transform="translate(459.8 684.7) rotate(-90)" font-size="11.5" text-anchor="middle">0</text>
<text transform="translate(459.8 632.53) rotate(-90)" font-size="11.5" text-anchor="middle">10</text>
<text transform="translate(459.8 580.36) rotate(-90)" font-size="11.5" text-anchor="middle">20</text>
<text transform="translate(459.8 528.19) rotate(-90)" font-size="11.5" text-anchor="middle">30</text>
<text transform="translate(471.8 593.4) rotate(-90)" font-size="9.4" font-weight="bold" text-anchor="middle">False Positive Rate (%)</text>
<text transform="translate(227.1 710.8) rotate(180)" font-size="9.5" font-weight="bold" text-anchor="middle">Depth (m)</text>
<defs><clipPath id="c3"><rect x="8.7" y="745.8" width="436.7" height="182.6"/></clipPath></defs>
<path d="M87 745.8V928.4M165.4 745.8V928.4M232.6 745.8V928.4M311 745.8V928.4M389.4 745.8V928.4M8.7 867.53H445.4M8.7 806.67H445.4" stroke="#e2e2e2" stroke-width="0.8" fill="none"/>
<g clip-path="url(#c3)">
<polyline points="83.6,797.6 166,803" fill="none" stroke="#00c83c" stroke-width="1" opacity="0.65"/>
<polyline points="96,813 165,795" fill="none" stroke="#ff3c3c" stroke-width="1" opacity="0.65"/>
<polyline points="165,795 240,791" fill="none" stroke="#00c83c" stroke-width="1" opacity="0.65"/>
<polyline points="165,796 225,796" fill="none" stroke="#8cc4ff" stroke-width="1" opacity="0.65"/>
<polyline points="243,805 305,838" fill="none" stroke="#8cc4ff" stroke-width="1" opacity="0.65"/>
<polyline points="243,810 312,835 380,829" fill="none" stroke="#ffd21f" stroke-width="1" opacity="0.65"/>
<polyline points="313,839 380,832" fill="none" stroke="#ff88ff" stroke-width="1" opacity="0.65"/>
<polyline points="87,811.54 165.4,791.45 232.6,797.54 311,831.62 389.4,823.1" fill="none" stroke="#2e2e2e" stroke-width="1.8"/>
<polygon points="43.08,790 46.92,788.08 46.92,791.92" fill="#1078f5"/>
<polygon points="52.2,796.6 56.6,794.4 56.6,798.8" fill="#1078f5"/>
<circle cx="33" cy="804.4" r="2.48" fill="#ff3c3c"/>
<rect x="91.93" y="784.52" width="4.95" height="4.95" fill="#00c83c"/>
<polygon points="105.52,792.6 101.67,790.68 101.67,794.52" fill="#ffd21f"/>
<circle cx="86" cy="805.4" r="2.75" fill="#ff3c3c"/>
<circle cx="95" cy="814" r="2.75" fill="#ff3c3c"/>
<circle cx="70" cy="822" r="3.03" fill="#ff3c3c"/>
<polygon points="77.01,817.25 78.99,817.25 78.99,819.01 80.75,819.01 80.75,820.99 78.99,820.99 78.99,822.75 77.01,822.75 77.01,820.99 75.25,820.99 75.25,819.01 77.01,819.01" fill="#ffa040"/>
<polygon points="106.61,816.4 108.19,816.4 108.19,817.81 109.6,817.81 109.6,819.39 108.19,819.39 108.19,820.8 106.61,820.8 106.61,819.39 105.2,819.39 105.2,817.81 106.61,817.81" fill="#ffa040"/>
<circle cx="40.4" cy="830.4" r="1.65" fill="#b44cf0"/>
<circle cx="125.6" cy="780.4" r="1.65" fill="#ffd21f"/>
<rect x="147.97" y="785.98" width="6.05" height="6.05" fill="#00c83c"/>
<polygon points="173.4,782.48 175.88,777.52 170.93,777.52" fill="#1e90ff"/>
<circle cx="177.6" cy="783.6" r="2.2" fill="#ff3c3c"/>
<polygon points="182.6,784.35 184.25,787.65 180.95,787.65" fill="#ff4fa6"/>
<rect x="168.25" y="786.25" width="5.5" height="5.5" fill="#00c83c"/>
<rect x="171.57" y="793.98" width="6.05" height="6.05" fill="#00c83c"/>
<circle cx="158.4" cy="815" r="2.2" fill="#ff3c3c"/>
<polygon points="168,816.1 168.48,817.33 169.8,817.41 168.78,818.25 169.12,819.54 168,818.83 166.88,819.54 167.22,818.25 166.2,817.41 167.52,817.33" fill="#00e8ff"/>
<polygon points="118.6,818.75 120.25,822.05 116.95,822.05" fill="#ff4fa6"/>
<circle cx="209.6" cy="809" r="1.38" fill="#ffc4d6"/>
<circle cx="222" cy="778.4" r="1.65" fill="#ffd21f"/>
<polygon points="237.8,793 242.2,790.8 242.2,795.2" fill="#1078f5"/>
<polygon points="218.4,797 222.8,794.8 222.8,799.2" fill="#1078f5"/>
<circle cx="265" cy="788" r="1.38" fill="#ffa040"/>
<polygon points="277.8,795.6 282.2,793.4 282.2,797.8" fill="#1078f5"/>
<polygon points="281.5,791.6 281.98,792.83 283.3,792.91 282.28,793.75 282.62,795.04 281.5,794.33 280.38,795.04 280.72,793.75 279.7,792.91 281.02,792.83" fill="#00e8ff"/>
<polygon points="232.53,808.4 237.47,805.92 237.47,810.88" fill="#1078f5"/>
<circle cx="251" cy="811.4" r="1.93" fill="#b44cf0"/>
<polygon points="246,824.92 247.93,821.08 244.07,821.08" fill="#1e90ff"/>
<polygon points="294.4,809.38 297.32,812.6 294.4,815.82 291.47,812.6" fill="#ff44ff"/>
<rect x="314.95" y="809.35" width="3.3" height="3.3" fill="#00c83c"/>
<polygon points="324.2,818.6 319.8,816.4 319.8,820.8" fill="#ffd21f"/>
<polygon points="317.8,825 313.4,822.8 313.4,827.2" fill="#ffd21f"/>
<polygon points="334.9,783.3 335.38,784.53 336.7,784.61 335.68,785.45 336.02,786.74 334.9,786.03 333.78,786.74 334.12,785.45 333.1,784.61 334.42,784.53" fill="#00e8ff"/>
<polygon points="347,788.88 349.93,792.1 347,795.32 344.07,792.1" fill="#ff44ff"/>
<circle cx="351.6" cy="797.4" r="1.38" fill="#ffa040"/>
<polygon points="402.9,779.6 405.1,784 400.7,784" fill="#ff4fa6"/>
<polygon points="377.61,807.8 379.19,807.8 379.19,809.21 380.6,809.21 380.6,810.79 379.19,810.79 379.19,812.2 377.61,812.2 377.61,810.79 376.2,810.79 376.2,809.21 377.61,809.21" fill="#ffa040"/>
<polygon points="396.3,806.81 400.2,811.1 396.3,815.39 392.4,811.1" fill="#ff44ff"/>
<polygon points="402,811.91 405.9,816.2 402,820.49 398.1,816.2" fill="#ff44ff"/>
<polygon points="417.8,809.45 419.45,812.75 416.15,812.75" fill="#ff4fa6"/>
<polygon points="432.3,812.61 436.2,816.9 432.3,821.19 428.4,816.9" fill="#ff44ff"/>
<rect x="361.57" y="826.38" width="3.85" height="3.85" fill="#00c83c"/>
<polygon points="380.7,828.62 383.95,832.2 380.7,835.78 377.45,832.2" fill="#ff44ff"/>
<polygon points="383.5,828.62 386.75,832.2 383.5,835.78 380.25,832.2" fill="#ff44ff"/>
<polygon points="228,839.42 228.4,840.44 229.5,840.51 228.65,841.21 228.93,842.28 228,841.69 227.07,842.28 227.35,841.21 226.5,840.51 227.6,840.44" fill="#00e8ff"/>
<circle cx="232.4" cy="838.4" r="1.1" fill="#9fe6b2"/>
<circle cx="231" cy="865" r="1.93" fill="#b44cf0"/>
<circle cx="236" cy="864" r="1.1" fill="#ffc4d6"/>
<polygon points="278.61,844.8 280.19,844.8 280.19,846.21 281.6,846.21 281.6,847.79 280.19,847.79 280.19,849.2 278.61,849.2 278.61,847.79 277.2,847.79 277.2,846.21 278.61,846.21" fill="#ffa040"/>
<polygon points="301.2,849 296.8,846.8 296.8,851.2" fill="#ffd21f"/>
<polygon points="199.11,881.92 200.89,881.92 200.89,883.51 202.47,883.51 202.47,885.29 200.89,885.29 200.89,886.88 199.11,886.88 199.11,885.29 197.53,885.29 197.53,883.51 199.11,883.51" fill="#ffa040"/>
<circle cx="274.4" cy="878" r="1.38" fill="#ffd21f"/>
<polygon points="291.93,881 288.07,879.08 288.07,882.92" fill="#ffd21f"/>
<polygon points="245,896.31 248.9,900.6 245,904.89 241.1,900.6" fill="#ff44ff"/>
<rect x="263.68" y="903.48" width="3.85" height="3.85" fill="#00c83c"/>
<polygon points="269,903.77 270.38,901.02 267.62,901.02" fill="#1e90ff"/>
<polygon points="283.6,903.6 285.8,899.2 281.4,899.2" fill="#1e90ff"/>
<rect x="200.93" y="907.92" width="4.95" height="4.95" fill="#00c83c"/>
<rect x="225.8" y="919.2" width="4.4" height="4.4" fill="#00c83c"/>
<polygon points="349.88,844.3 353.73,842.38 353.73,846.22" fill="#1078f5"/>
<polygon points="316.4,871.02 316.8,872.04 317.9,872.11 317.05,872.81 317.33,873.88 316.4,873.29 315.47,873.88 315.75,872.81 314.9,872.11 316,872.04" fill="#00e8ff"/>
<circle cx="358.2" cy="880" r="1.65" fill="#b44cf0"/>
<rect x="372.12" y="887.12" width="4.95" height="4.95" fill="#00c83c"/>
<polygon points="385.85,892.6 389.15,890.95 389.15,894.25" fill="#1078f5"/>
<polygon points="357.3,893.18 360.23,896.4 357.3,899.62 354.38,896.4" fill="#ff44ff"/>
<polygon points="309.6,925.5 305.2,923.3 305.2,927.7" fill="#ffd21f"/>
<circle cx="107.8" cy="921.8" r="1.93" fill="#b44cf0"/>
<circle cx="120.4" cy="917.1" r="2.2" fill="#ff3c3c"/>
<polygon points="127.52,914.9 123.67,912.98 123.67,916.82" fill="#ffd21f"/>
<circle cx="142.7" cy="923.8" r="2.48" fill="#ff3c3c"/>
<circle cx="150.1" cy="913.7" r="2.48" fill="#ff3c3c"/>
<circle cx="164.8" cy="911.4" r="2.48" fill="#ff3c3c"/>
<polygon points="170.57,911.4 174.43,909.48 174.43,913.32" fill="#1078f5"/>
</g>
<circle cx="87" cy="811.54" r="4.1" fill="#ff0000" stroke="#000" stroke-width="1.6" stroke-linejoin="miter"/>
<rect x="160.9" y="786.95" width="9" height="9" fill="#00c400" stroke="#000" stroke-width="1.6" stroke-linejoin="miter"/>
<polygon points="227.9,797.54 237.3,792.84 237.3,802.24" fill="#1560ff" stroke="#000" stroke-width="1.6" stroke-linejoin="miter"/>
<polygon points="315.7,831.62 306.3,826.92 306.3,836.32" fill="#ffd500" stroke="#000" stroke-width="1.6" stroke-linejoin="miter"/>
<polygon points="389.4,816.5 395.4,823.1 389.4,829.7 383.4,823.1" fill="#ff00ff" stroke="#000" stroke-width="1.6" stroke-linejoin="miter"/>
<rect x="8.7" y="745.8" width="436.7" height="182.6" fill="none" stroke="#4a4a4a" stroke-width="1.3"/>
<path d="M87 928.4v2.8M165.4 928.4v2.8M232.6 928.4v2.8M311 928.4v2.8M389.4 928.4v2.8M445.4 928.4h2.8M445.4 867.53h2.8M445.4 806.67h2.8M445.4 745.8h2.8" stroke="#3a3a3a" stroke-width="1" fill="none"/>
<text transform="translate(87 935.4) rotate(-90)" font-size="11.5" text-anchor="end" dy="0.34em">0.5</text>
<text transform="translate(86.6 956.4) rotate(-90)" font-size="7.2" font-weight="bold" text-anchor="end" dy="0.35em" fill="#ff1010">NR</text>
<text transform="translate(165.4 935.4) rotate(-90)" font-size="11.5" text-anchor="end" dy="0.34em">1.2</text>
<text transform="translate(165 956.4) rotate(-90)" font-size="7.2" font-weight="bold" text-anchor="end" dy="0.35em" fill="#00b828">FZ</text>
<text transform="translate(232.6 935.4) rotate(-90)" font-size="11.5" text-anchor="end" dy="0.34em">1.8</text>
<text transform="translate(232.2 956.4) rotate(-90)" font-size="7.2" font-weight="bold" text-anchor="end" dy="0.35em" fill="#0a70ff">WS</text>
<text transform="translate(311 935.4) rotate(-90)" font-size="11.5" text-anchor="end" dy="0.34em">2.5</text>
<text transform="translate(310.6 956.4) rotate(-90)" font-size="7.2" font-weight="bold" text-anchor="end" dy="0.35em" fill="#ffc800">HS</text>
<text transform="translate(389.4 935.4) rotate(-90)" font-size="11.5" text-anchor="end" dy="0.34em">3.2</text>
<text transform="translate(389 956.4) rotate(-90)" font-size="7.2" font-weight="bold" text-anchor="end" dy="0.35em" fill="#ff10ff">SR</text>
<text transform="translate(459.8 928.4) rotate(-90)" font-size="11.5" text-anchor="middle">70</text>
<text transform="translate(459.8 867.53) rotate(-90)" font-size="11.5" text-anchor="middle">80</text>
<text transform="translate(459.8 806.67) rotate(-90)" font-size="11.5" text-anchor="middle">90</text>
<text transform="translate(459.8 745.8) rotate(-90)" font-size="11.5" text-anchor="middle">100</text>
<text transform="translate(471.8 837.1) rotate(-90)" font-size="9.4" font-weight="bold" text-anchor="middle">True Positive Rate (%)</text>
<text transform="translate(227.1 954.5) rotate(180)" font-size="9.5" font-weight="bold" text-anchor="middle">Depth (m)</text>
<rect x="14" y="835.5" width="179.6" height="88.5" rx="2.5" fill="#fff" fill-opacity="0.8" stroke="#d4d4d4" stroke-width="0.9"/>
<text transform="translate(22.6 879.7) rotate(-90)" font-size="12.2" text-anchor="middle" dy="0.35em">Validation Dates</text>
<text transform="translate(38.5 889) rotate(-90)" font-size="10.6" dy="0.35em">NR: 89.2%</text>
<text transform="translate(53.05 889) rotate(-90)" font-size="10.6" dy="0.35em">FZ: 92.5%</text>
<text transform="translate(67.6 889) rotate(-90)" font-size="10.6" dy="0.35em">WS: 91.5%</text>
<text transform="translate(82.15 889) rotate(-90)" font-size="10.6" dy="0.35em">HS: 85.9%</text>
<text transform="translate(96.7 889) rotate(-90)" font-size="10.6" dy="0.35em">SR: 87.3%</text>
<text transform="translate(111.25 889) rotate(-90)" font-size="10.6" dy="0.35em">02/01/2024</text>
<text transform="translate(125.8 889) rotate(-90)" font-size="10.6" dy="0.35em">05/06/2024</text>
<text transform="translate(140.35 889) rotate(-90)" font-size="10.6" dy="0.35em">11/21/2024</text>
<text transform="translate(154.9 889) rotate(-90)" font-size="10.6" dy="0.35em">02/18/2024</text>
<text transform="translate(169.45 889) rotate(-90)" font-size="10.6" dy="0.35em">09/10/2024</text>
<text transform="translate(184 889) rotate(-90)" font-size="10.6" dy="0.35em">12/30/2024</text>
<circle cx="38.5" cy="907.7" r="4.2" fill="#ff0000" stroke="#000" stroke-width="1.6" stroke-linejoin="miter"/>
<rect x="48.95" y="903.6" width="8.2" height="8.2" fill="#00c400" stroke="#000" stroke-width="1.6" stroke-linejoin="miter"/>
<polygon points="62.8,907.7 72.4,902.9 72.4,912.5" fill="#1560ff" stroke="#000" stroke-width="1.6" stroke-linejoin="miter"/>
<polygon points="86.95,907.7 77.35,902.9 77.35,912.5" fill="#ffd500" stroke="#000" stroke-width="1.6" stroke-linejoin="miter"/>
<polygon points="96.7,901.54 102.3,907.7 96.7,913.86 91.1,907.7" fill="#ff00ff" stroke="#000" stroke-width="1.6" stroke-linejoin="miter"/>
<circle cx="111.25" cy="907.7" r="3.1" fill="#ff2a2a"/>
<rect x="122.7" y="904.6" width="6.2" height="6.2" fill="#00c83c"/>
<polygon points="137.05,907.7 143.65,904.4 143.65,911" fill="#1078f5"/>
<polygon points="158.2,907.7 151.6,904.4 151.6,911" fill="#ffd21f"/>
<polygon points="169.45,903.41 173.35,907.7 169.45,911.99 165.55,907.7" fill="#ff44ff"/>
<polygon points="184,903.91 184.97,906.37 187.61,906.53 185.57,908.21 186.23,910.77 184,909.35 181.77,910.77 182.43,908.21 180.39,906.53 183.03,906.37" fill="#00e8ff"/>
<rect x="504.5" y="231" width="38" height="509" rx="2.5" fill="#fff" stroke="#d4d4d4" stroke-width="0.9"/>
<circle cx="514.5" cy="723.9" r="4.7" fill="#ff0000" stroke="#000" stroke-width="0.9" stroke-linejoin="miter"/>
<text transform="translate(514.5 702.1) rotate(-90)" font-size="12" dy="0.35em">NR - Normal Rock</text>
<rect x="527" y="719.3" width="9.2" height="9.2" fill="#00c400" stroke="#000" stroke-width="0.9" stroke-linejoin="miter"/>
<text transform="translate(531.6 702.1) rotate(-90)" font-size="12" dy="0.35em">FZ - Fractured Zone</text>
<polygon points="509.8,568 519.8,563 519.8,573" fill="#1560ff" stroke="#000" stroke-width="0.9" stroke-linejoin="miter"/>
<text transform="translate(514.8 546.2) rotate(-90)" font-size="12" dy="0.35em">WS - Water-bearing Strata</text>
<polygon points="536.5,568 526.5,563 526.5,573" fill="#ffd500" stroke="#000" stroke-width="0.9" stroke-linejoin="miter"/>
<text transform="translate(531.5 546.2) rotate(-90)" font-size="12" dy="0.35em">HS - High-stress Zone</text>
<polygon points="514.6,376.59 520.7,383.3 514.6,390.01 508.5,383.3" fill="#ff00ff" stroke="#000" stroke-width="0.9" stroke-linejoin="miter"/>
<text transform="translate(514.6 361.5) rotate(-90)" font-size="12" dy="0.35em">SR - Soft Rock Formation</text>
<text x="275.6" y="995.5" font-size="18.5" text-anchor="middle">(<tspan font-weight="bold">b</tspan>)</text>
</svg></body></html>
